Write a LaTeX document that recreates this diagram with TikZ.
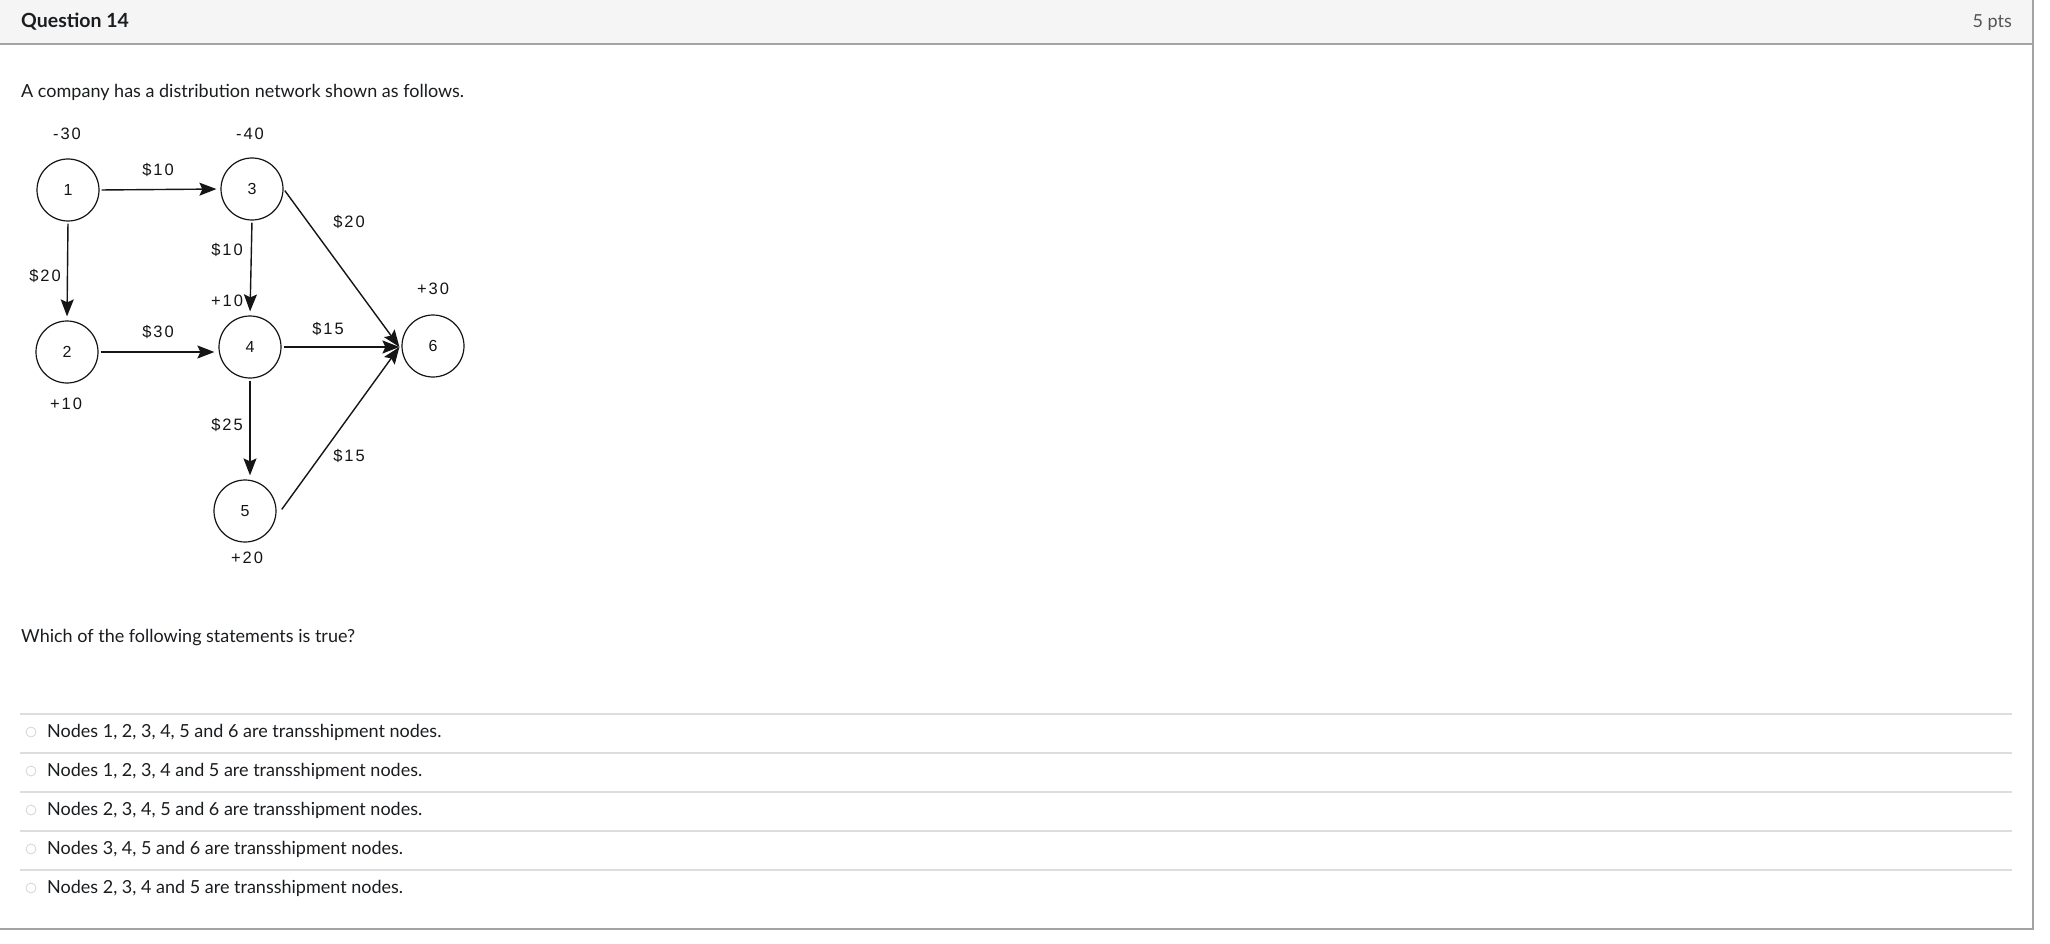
\documentclass[tikz,border=0pt]{standalone}
\usepackage{fontspec}
\setmainfont{Lato}
\newfontfamily\diagfont[LetterSpace=12]{Liberation Sans}
\usetikzlibrary{arrows.meta,calc}
\definecolor{txt}{HTML}{1A1D20}
\definecolor{ink}{HTML}{151515}
\definecolor{hdrbg}{HTML}{F5F5F5}
\definecolor{frame}{HTML}{A3A3A3}
\definecolor{sep}{HTML}{DDDDDD}
\definecolor{radio}{HTML}{D6D6D6}
\definecolor{pts}{HTML}{555555}
\begin{document}
\begin{tikzpicture}[x=1pt,y=-1pt,
  body/.style={font=\fontsize{18}{22}\selectfont, text=txt, anchor=base west, inner sep=0pt},
  vnode/.style={circle, draw=ink, line width=1.2pt, minimum size=62pt, inner sep=0pt,
    font=\diagfont\fontsize{16}{18}\selectfont, text=ink},
  lbl/.style={font=\diagfont\fontsize{16.5}{18}\selectfont, text=ink, inner sep=0pt},
  arr/.style={draw=ink, line width=1.4pt, -{Stealth[length=17pt,width=13pt,inset=3pt]},
    shorten >=4pt, shorten <=2pt},
  sepline/.style={draw=sep, line width=1.6pt},
  radiobtn/.style={circle, draw=radio, fill=white, line width=0.8pt, minimum size=10pt, inner sep=0pt}
]
\useasboundingbox (0,0) rectangle (2050,944);
\fill[white] (0,0) rectangle (2050,944);
% header
\fill[hdrbg] (0,0) rectangle (2033,44);
\draw[frame, line width=2pt] (0,44) -- (2033,44);
\draw[frame, line width=2pt] (2033,0) -- (2033,929) -- (0,929);
\node[body, font=\bfseries\fontsize{19.5}{22}\selectfont] (qtitle) at (21,28) {Question 14};
\node[body, anchor=base east, text=pts] (qpts) at (2012,28) {5 pts};
% intro
\node[body] (intro) at (21,98) {A company has a distribution network shown as follows.};
% network
\node[vnode] (n1) at (68,190) {1};
\node[vnode] (n3) at (252,189) {3};
\node[vnode] (n2) at (67,352) {2};
\node[vnode] (n4) at (250,347) {4};
\node[vnode] (n6) at (433,346) {6};
\node[vnode] (n5) at (245,511) {5};
\coordinate (t6) at ($(n6.west)+(-2,1)$);
\draw[arr] (n1.east) -- (n3.west);
\draw[arr] (n1.south) -- (n2.north);
\draw[arr] (n3.south) -- (n4.north);
\draw[arr] (n2.east) -- (n2.east -| n4.west);
\draw[arr] (n4.south) -- (n4.south |- n5.north);
\draw[arr, shorten >=0pt] (n3.east) -- (t6);
\draw[arr, shorten >=0pt] (n4.east) -- (t6);
\draw[arr, shorten >=0pt] ($(n5.east)+(4,0)$) -- (t6);
% labels
\node[lbl] (s1) at (67,134) {-30};
\node[lbl] (s3) at (250,134) {-40};
\node[lbl] (c13) at (158,170) {\$10};
\node[lbl] (c36) at (349,222) {\$20};
\node[lbl] (c34) at (227,250) {\$10};
\node[lbl] (c12) at (45,276) {\$20};
\node[lbl] (d6) at (433,289) {+30};
\node[lbl] (d4) at (227,301) {+10};
\node[lbl] (c24) at (158,332) {\$30};
\node[lbl] (c46) at (328,329) {\$15};
\node[lbl] (d2) at (66,404) {+10};
\node[lbl] (c45) at (227,425) {\$25};
\node[lbl] (c56) at (349,456) {\$15};
\node[lbl] (d5) at (247,558) {+20};
% question
\node[body] (ask) at (21,642) {Which of the following statements is true?};
% options
\draw[sepline] (20,714) -- (2012,714);
\draw[sepline] (20,753) -- (2012,753);
\draw[sepline] (20,792) -- (2012,792);
\draw[sepline] (20,831) -- (2012,831);
\draw[sepline] (20,870) -- (2012,870);
\node[radiobtn] (r1) at (31,732) {};
\node[radiobtn] (r2) at (31,771) {};
\node[radiobtn] (r3) at (31,810) {};
\node[radiobtn] (r4) at (31,849) {};
\node[radiobtn] (r5) at (31,888) {};
\node[body] (o1) at (47,737) {Nodes 1, 2, 3, 4, 5 and 6 are transshipment nodes.};
\node[body] (o2) at (47,776) {Nodes 1, 2, 3, 4 and 5 are transshipment nodes.};
\node[body] (o3) at (47,815) {Nodes 2, 3, 4, 5 and 6 are transshipment nodes.};
\node[body] (o4) at (47,854) {Nodes 3, 4, 5 and 6 are transshipment nodes.};
\node[body] (o5) at (47,893) {Nodes 2, 3, 4 and 5 are transshipment nodes.};
\end{tikzpicture}
\end{document}
